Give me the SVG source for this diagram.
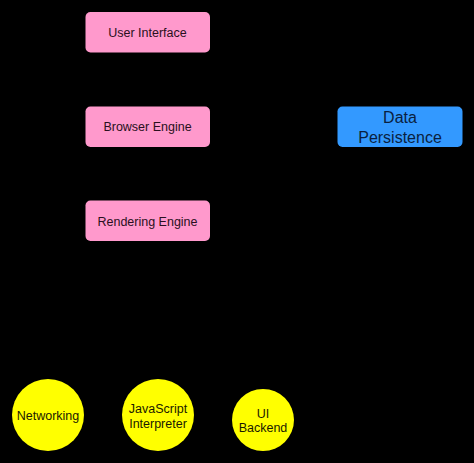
<svg xmlns="http://www.w3.org/2000/svg" width="474" height="463" viewBox="0 0 474 463">
  <style>
    .box { fill: #ff99cc; }
    .store { fill: #3399ff; }
    .circ { fill: #ffff00; }
    text { font-family: "Liberation Sans", Arial, sans-serif; text-anchor: middle; }
    .lbl { font-size: 12.5px; fill: #2a1020; }
    .big { font-size: 16px; fill: #0a1f40; }
    .clbl { font-size: 12.5px; fill: #1a1a00; }
  </style>
  <rect width="474" height="463" fill="#000000"/>
  <g id="connectors"></g>
  <g id="user-interface">
    <rect class="box" x="85.5" y="12" width="124.5" height="40.5" rx="5"/>
    <text class="lbl" x="147.5" y="36.5">User Interface</text>
  </g>
  <g id="browser-engine">
    <rect class="box" x="85.5" y="106.5" width="124.5" height="40.5" rx="5"/>
    <text class="lbl" x="147.5" y="131">Browser Engine</text>
  </g>
  <g id="rendering-engine">
    <rect class="box" x="85.5" y="200.5" width="124.5" height="40.5" rx="5"/>
    <text class="lbl" x="147.5" y="225.5">Rendering Engine</text>
  </g>
  <g id="data-persistence">
    <rect class="store" x="337.5" y="106.5" width="125" height="40.5" rx="5"/>
    <text class="big" x="400" y="122.5">Data</text>
    <text class="big" x="400" y="142.5">Persistence</text>
  </g>
  <g id="networking">
    <circle class="circ" cx="48" cy="415" r="36"/>
    <text class="clbl" x="48" y="419.5">Networking</text>
  </g>
  <g id="javascript-interpreter">
    <circle class="circ" cx="158" cy="415" r="36"/>
    <text class="clbl" x="158" y="413">JavaScript</text>
    <text class="clbl" x="158" y="427.5">Interpreter</text>
  </g>
  <g id="ui-backend">
    <circle class="circ" cx="263" cy="420" r="31"/>
    <text class="clbl" x="263" y="417.5">UI</text>
    <text class="clbl" x="263" y="432">Backend</text>
  </g>
</svg>
